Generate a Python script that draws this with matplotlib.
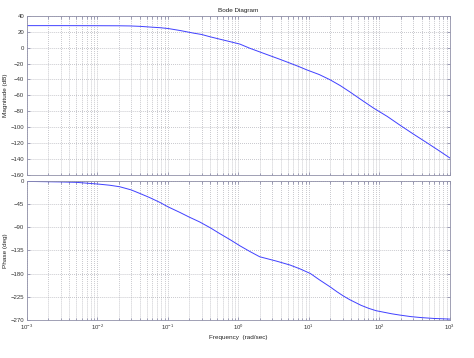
import matplotlib
matplotlib.use("Agg")
import matplotlib.pyplot as plt
from matplotlib.ticker import LogLocator, NullFormatter, FixedLocator

plt.rcParams['font.family'] = ['Liberation Sans', 'DejaVu Sans']

# Data (frequency in rad/sec)
mag_freq = [0.001, 0.003, 0.01, 0.02, 0.029, 0.04, 0.056, 0.077, 0.1, 0.148, 0.23, 0.3,
            0.40, 0.55, 0.76, 1.05, 1.45, 2.5, 3.7, 5.4, 7.3, 9.3, 14, 20, 28, 38, 55,
            82, 130, 195, 300, 468, 700, 1000]
mag_db = [27.6, 27.6, 27.5, 27.4, 27.2, 26.7, 25.8, 25.0, 24.0, 21.5, 18.2, 16.5,
          13.5, 10.5, 7.5, 4.4, -0.8, -8.5, -14.0, -19.5, -24.0, -27.9, -33.8, -40.4,
          -47.8, -55.5, -65.3, -75.7, -86.5, -97.2, -108.2, -119.2, -129.3, -138.5]

ph_freq = [0.001, 0.003, 0.005, 0.0108, 0.015, 0.0208, 0.03, 0.040, 0.055, 0.077, 0.1,
           0.148, 0.2, 0.28, 0.4, 0.54, 0.76, 1.05, 1.45, 2.0, 3.5, 5.4, 7.5, 10.5, 14,
           20, 25, 30.6, 38, 55, 71, 90, 150, 195, 280, 400, 600, 1000]
ph_deg = [-0.5, -1.5, -2.3, -6.0, -8.0, -11.0, -17.0, -24.0, -32.0, -41.5, -50.0,
          -61.0, -70.0, -79.3, -91.0, -102.0, -114.0, -126.0, -137.0, -147.3, -156.0,
          -163.5, -171.0, -180.0, -192.0, -206.0, -215.5, -223.5, -231.0, -242.0, -248.0,
          -252.5, -258.5, -261.0, -264.0, -266.0, -267.6, -268.8]

mag_ticks = [40, 20, 0, -20, -40, -60, -80, -100, -120, -140, -160]
ph_ticks = [0, -45, -90, -135, -180, -225, -270]
x_ticks = [1e-3, 1e-2, 1e-1, 1e0, 1e1, 1e2, 1e3]

fig = plt.figure(figsize=(4.74, 3.58), dpi=100)
ax1 = fig.add_axes([0.057, 0.511, 0.892, 0.445])
ax2 = fig.add_axes([0.057, 0.107, 0.892, 0.387])

line_col = '#4040ff'
ax1.plot(mag_freq, mag_db, color=line_col, lw=0.7)
ax2.plot(ph_freq, ph_deg, color=line_col, lw=0.7)

for ax in (ax1, ax2):
    ax.set_xscale('log')
    ax.set_xlim(1e-3, 1e3)
    ax.xaxis.set_major_locator(FixedLocator(x_ticks))
    ax.xaxis.set_minor_locator(LogLocator(base=10, subs=range(2, 10), numticks=20))
    ax.xaxis.set_minor_formatter(NullFormatter())
    ax.grid(True, which='major', axis='both', linestyle=':', color='#a8a8b0', lw=0.55)
    ax.grid(True, which='minor', axis='x', linestyle=':', color='#a8a8b0', lw=0.55)
    ax.tick_params(which='both', direction='in', top=True, right=True, colors='#8080a0',
                   labelcolor='#333333', labelsize=4.3, length=2.5, width=0.5, pad=2)
    ax.tick_params(which='minor', length=1.8)
    for s in ax.spines.values():
        s.set_color('#9090a8')
        s.set_linewidth(0.6)

ax1.set_ylim(-160, 40)
ax1.set_yticks(mag_ticks)
ax1.tick_params(labelbottom=False)
ax2.set_ylim(-270, 0)
ax2.set_yticks(ph_ticks)

ax1.set_ylabel('Magnitude (dB)', fontsize=4.6, labelpad=2, color='#222222')
ax2.set_ylabel('Phase (deg)', fontsize=4.6, labelpad=2, color='#222222')
ax2.set_xlabel('Frequency  (rad/sec)', fontsize=4.6, labelpad=2, color='#222222')
ax1.set_title('Bode Diagram', fontsize=4.6, pad=3, color='#222222')

fig.savefig('out.png', dpi=100)
